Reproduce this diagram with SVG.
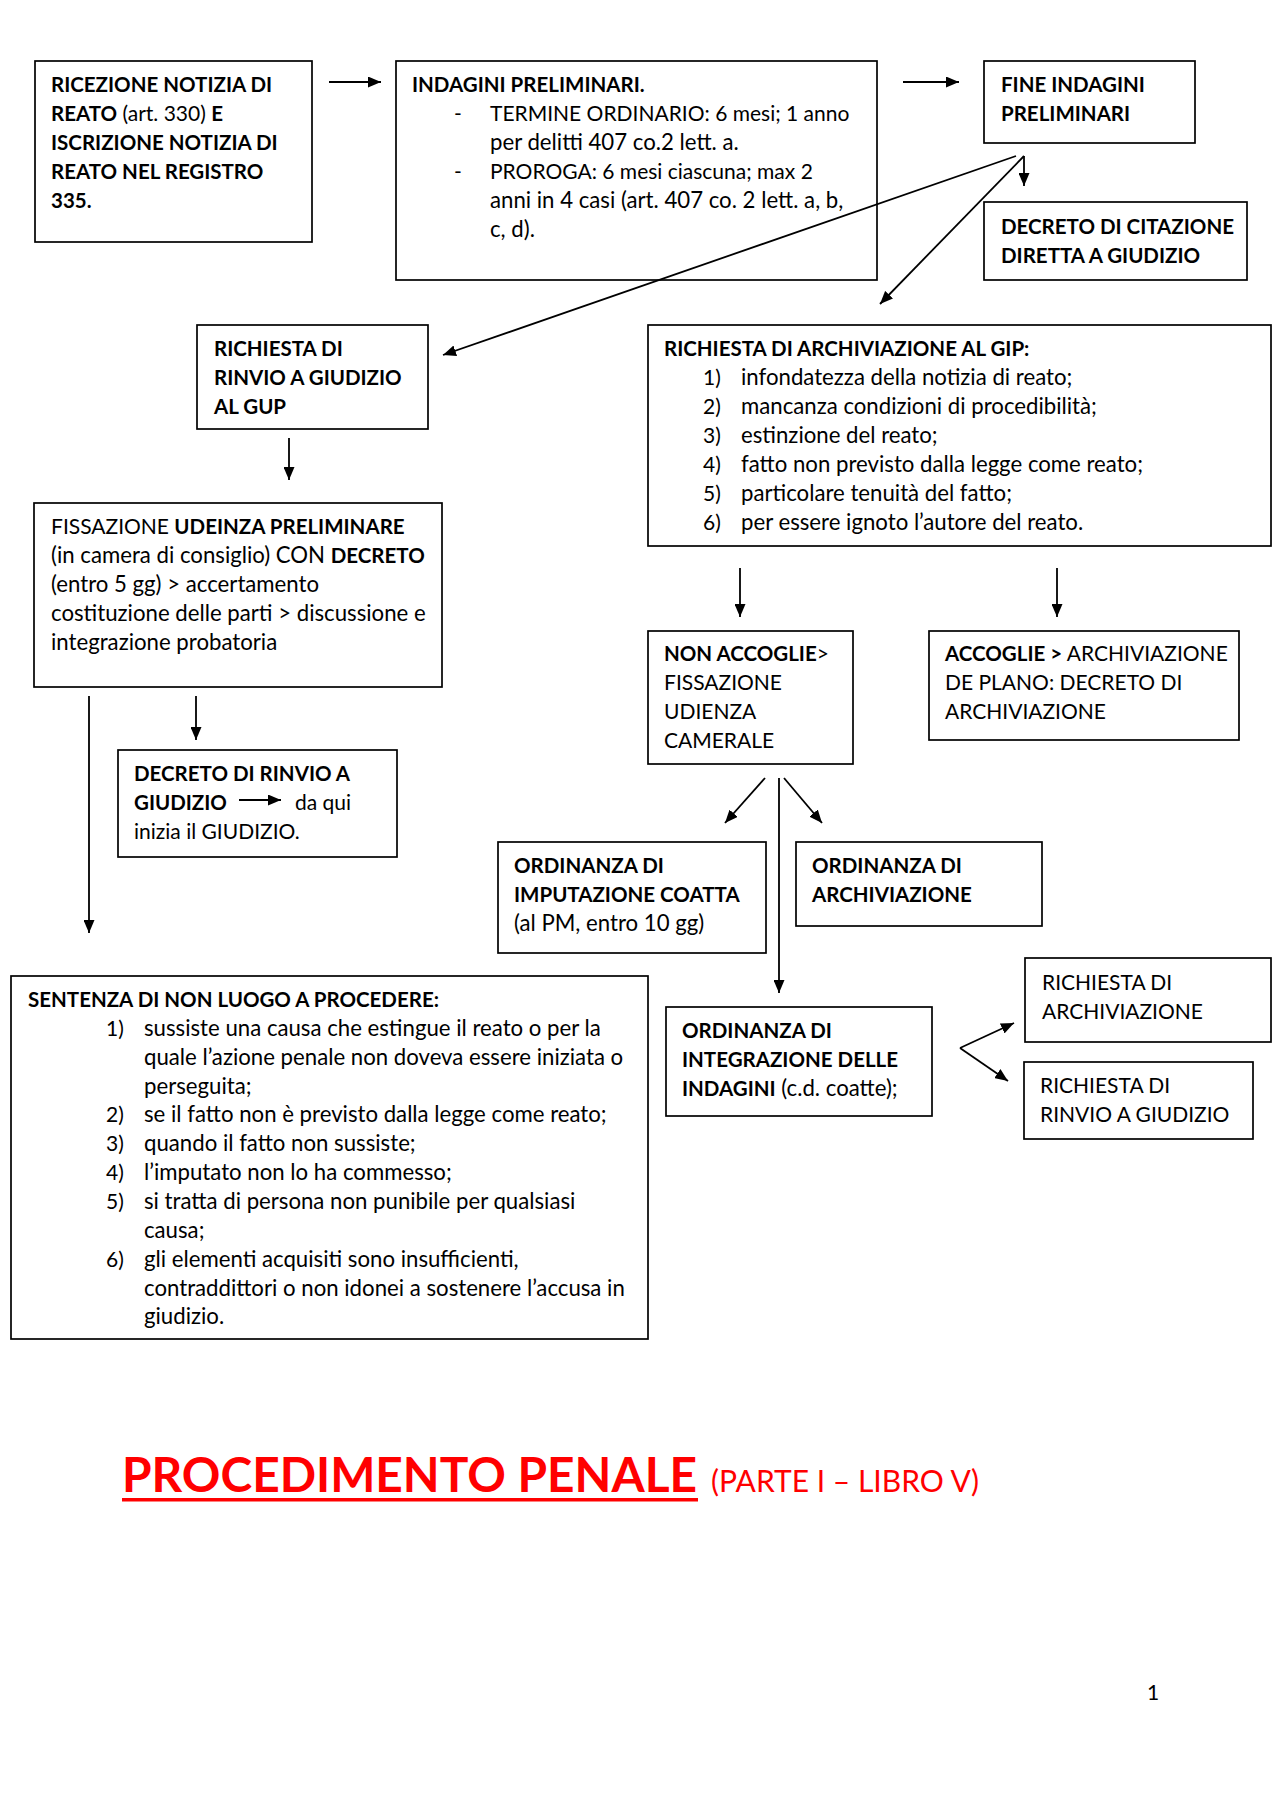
<svg xmlns="http://www.w3.org/2000/svg" width="1280" height="1811" viewBox="0 0 1280 1811">
<style>
.box{fill:#fff;stroke:#000;stroke-width:1.7}
.t{font-family:Lato,"Liberation Sans",sans-serif;font-size:21px;fill:#000}
.l{font-size:22.2px}
.b{font-weight:bold;font-size:20.5px}
.c{stroke:#000;stroke-width:1.8;fill:none}
.red{fill:#ff0000}
</style>
<defs>
<marker id="ah" markerWidth="13" markerHeight="11" refX="13" refY="5.5" orient="auto" markerUnits="userSpaceOnUse">
<path d="M0,0 L13,5.5 L0,11 z" fill="#000"/>
</marker>
</defs>
<rect width="1280" height="1811" fill="#fff"/>

<g id="ricezione">
<rect class="box" x="35" y="61" width="277" height="181"/>
<text class="t b" x="51" y="92">RICEZIONE NOTIZIA DI</text>
<text class="t" x="51" y="121"><tspan class="b">REATO</tspan> (art. 330) <tspan class="b">E</tspan></text>
<text class="t b" x="51" y="150">ISCRIZIONE NOTIZIA DI</text>
<text class="t b" x="51" y="179">REATO NEL REGISTRO</text>
<text class="t b" x="51" y="208">335.</text>
</g>

<g id="indagini">
<rect class="box" x="396" y="61" width="481" height="219"/>
<text class="t b" x="412" y="92">INDAGINI PRELIMINARI.</text>
<text class="t" x="454" y="121">-</text>
<text class="t" x="490" y="121">TERMINE ORDINARIO: 6 mesi; 1 anno</text>
<text class="t l" x="490" y="150">per delitti 407 co.2 lett. a.</text>
<text class="t" x="454" y="179">-</text>
<text class="t" x="490" y="179">PROROGA: 6 mesi ciascuna; max 2</text>
<text class="t l" x="490" y="208">anni in 4 casi (art. 407 co. 2 lett. a, b,</text>
<text class="t l" x="490" y="237">c, d).</text>
</g>

<g id="fine">
<rect class="box" x="984" y="61" width="211" height="82"/>
<text class="t b" x="1001" y="92">FINE INDAGINI</text>
<text class="t b" x="1001" y="121">PRELIMINARI</text>
</g>

<g id="decreto-citazione">
<rect class="box" x="984" y="202" width="263" height="78"/>
<text class="t b" x="1001" y="234">DECRETO DI CITAZIONE</text>
<text class="t b" x="1001" y="263">DIRETTA A GIUDIZIO</text>
</g>

<g id="richiesta-rinvio">
<rect class="box" x="197" y="325" width="231" height="104"/>
<text class="t b" x="214" y="356">RICHIESTA DI</text>
<text class="t b" x="214" y="385">RINVIO A GIUDIZIO</text>
<text class="t b" x="214" y="414">AL GUP</text>
</g>

<g id="richiesta-archiviazione">
<rect class="box" x="648" y="325" width="623" height="221"/>
<text class="t b" x="664" y="356">RICHIESTA DI ARCHIVIAZIONE AL GIP:</text>
<text class="t" x="703" y="385">1)</text><text class="t l" x="741" y="385">infondatezza della notizia di reato;</text>
<text class="t" x="703" y="414">2)</text><text class="t l" x="741" y="414">mancanza condizioni di procedibilità;</text>
<text class="t" x="703" y="443">3)</text><text class="t l" x="741" y="443">estinzione del reato;</text>
<text class="t" x="703" y="472">4)</text><text class="t l" x="741" y="472">fatto non previsto dalla legge come reato;</text>
<text class="t" x="703" y="501">5)</text><text class="t l" x="741" y="501">particolare tenuità del fatto;</text>
<text class="t" x="703" y="530">6)</text><text class="t l" x="741" y="530">per essere ignoto l’autore del reato.</text>
</g>

<g id="udienza-preliminare">
<rect class="box" x="34" y="503" width="408" height="184"/>
<text class="t" x="51" y="534">FISSAZIONE <tspan class="b">UDEINZA PRELIMINARE</tspan></text>
<text class="t l" x="51" y="563">(in camera di consiglio) CON <tspan class="b">DECRETO</tspan></text>
<text class="t l" x="51" y="592">(entro 5 gg) &gt; accertamento</text>
<text class="t l" x="51" y="621">costituzione delle parti &gt; discussione e</text>
<text class="t l" x="51" y="650">integrazione probatoria</text>
</g>

<g id="non-accoglie">
<rect class="box" x="648" y="631" width="205" height="133"/>
<text class="t" x="664" y="661"><tspan class="b">NON ACCOGLIE</tspan>&gt;</text>
<text class="t" x="664" y="690">FISSAZIONE</text>
<text class="t" x="664" y="719">UDIENZA</text>
<text class="t" x="664" y="748">CAMERALE</text>
</g>

<g id="accoglie">
<rect class="box" x="929" y="631" width="310" height="109"/>
<text class="t" x="945" y="661"><tspan class="b">ACCOGLIE &gt;</tspan> ARCHIVIAZIONE</text>
<text class="t" x="945" y="690">DE PLANO: DECRETO DI</text>
<text class="t" x="945" y="719">ARCHIVIAZIONE</text>
</g>

<g id="decreto-rinvio">
<rect class="box" x="118" y="750" width="279" height="107"/>
<text class="t b" x="134" y="781">DECRETO DI RINVIO A</text>
<text class="t b" x="134" y="810">GIUDIZIO</text>
<text class="t" x="295" y="810">da qui</text>
<text class="t" x="134" y="839">inizia il GIUDIZIO.</text>
</g>

<g id="imputazione-coatta">
<rect class="box" x="498" y="842" width="268" height="111"/>
<text class="t b" x="514" y="873">ORDINANZA DI</text>
<text class="t b" x="514" y="902">IMPUTAZIONE COATTA</text>
<text class="t l" x="514" y="931">(al PM, entro 10 gg)</text>
</g>

<g id="ordinanza-archiviazione">
<rect class="box" x="796" y="842" width="246" height="84"/>
<text class="t b" x="812" y="873">ORDINANZA DI</text>
<text class="t b" x="812" y="902">ARCHIVIAZIONE</text>
</g>

<g id="sentenza">
<rect class="box" x="11" y="976" width="637" height="363"/>
<text class="t b" x="28" y="1007">SENTENZA DI NON LUOGO A PROCEDERE:</text>
<text class="t" x="106" y="1036">1)</text><text class="t l" x="144" y="1036">sussiste una causa che estingue il reato o per la</text>
<text class="t l" x="144" y="1065">quale l’azione penale non doveva essere iniziata o</text>
<text class="t l" x="144" y="1094">perseguita;</text>
<text class="t" x="106" y="1122">2)</text><text class="t l" x="144" y="1122">se il fatto non è previsto dalla legge come reato;</text>
<text class="t" x="106" y="1151">3)</text><text class="t l" x="144" y="1151">quando il fatto non sussiste;</text>
<text class="t" x="106" y="1180">4)</text><text class="t l" x="144" y="1180">l’imputato non lo ha commesso;</text>
<text class="t" x="106" y="1209">5)</text><text class="t l" x="144" y="1209">si tratta di persona non punibile per qualsiasi</text>
<text class="t l" x="144" y="1238">causa;</text>
<text class="t" x="106" y="1267">6)</text><text class="t l" x="144" y="1267">gli elementi acquisiti sono insufficienti,</text>
<text class="t l" x="144" y="1296">contraddittori o non idonei a sostenere l’accusa in</text>
<text class="t l" x="144" y="1324">giudizio.</text>
</g>

<g id="integrazione-indagini">
<rect class="box" x="666" y="1007" width="266" height="109"/>
<text class="t b" x="682" y="1038">ORDINANZA DI</text>
<text class="t b" x="682" y="1067">INTEGRAZIONE DELLE</text>
<text class="t l" x="682" y="1096"><tspan class="b">INDAGINI</tspan> (c.d. coatte);</text>
</g>

<g id="richiesta-archiviazione-2">
<rect class="box" x="1025" y="958" width="246" height="84"/>
<text class="t" x="1042" y="990">RICHIESTA DI</text>
<text class="t" x="1042" y="1019">ARCHIVIAZIONE</text>
</g>

<g id="richiesta-rinvio-2">
<rect class="box" x="1024" y="1062" width="229" height="77"/>
<text class="t" x="1040" y="1093">RICHIESTA DI</text>
<text class="t" x="1040" y="1122">RINVIO A GIUDIZIO</text>
</g>

<g id="titolo">
<text class="t b red" x="122" y="1492" style="font-size:47px" textLength="575" lengthAdjust="spacingAndGlyphs">PROCEDIMENTO PENALE</text>
<rect x="122" y="1498" width="576" height="3.5" fill="#ff0000"/>
<text class="t red" x="711" y="1492" style="font-size:31px" textLength="268" lengthAdjust="spacingAndGlyphs">(PARTE I – LIBRO V)</text>
</g>

<g id="pagina">
<text class="t" x="1153" y="1700" text-anchor="middle">1</text>
</g>

<g id="connectors">
<line class="c" x1="329" y1="82" x2="381" y2="82" marker-end="url(#ah)"/>
<line class="c" x1="903" y1="82" x2="959" y2="82" marker-end="url(#ah)"/>
<line class="c" x1="1024" y1="156" x2="1024" y2="186" marker-end="url(#ah)"/>
<line class="c" x1="1016" y1="156" x2="443" y2="355" marker-end="url(#ah)"/>
<line class="c" x1="1024" y1="156" x2="880" y2="304" marker-end="url(#ah)"/>
<line class="c" x1="289" y1="438" x2="289" y2="480" marker-end="url(#ah)"/>
<line class="c" x1="740" y1="568" x2="740" y2="617" marker-end="url(#ah)"/>
<line class="c" x1="1057" y1="568" x2="1057" y2="617" marker-end="url(#ah)"/>
<line class="c" x1="89" y1="696" x2="89" y2="933" marker-end="url(#ah)"/>
<line class="c" x1="196" y1="696" x2="196" y2="740" marker-end="url(#ah)"/>
<line class="c" x1="239" y1="800" x2="281" y2="800" marker-end="url(#ah)"/>
<line class="c" x1="765" y1="778" x2="725" y2="823" marker-end="url(#ah)"/>
<line class="c" x1="779" y1="778" x2="779" y2="993" marker-end="url(#ah)"/>
<line class="c" x1="784" y1="778" x2="822" y2="823" marker-end="url(#ah)"/>
<line class="c" x1="960" y1="1048" x2="1014" y2="1023" marker-end="url(#ah)"/>
<line class="c" x1="960" y1="1048" x2="1008" y2="1081" marker-end="url(#ah)"/>
</g>
</svg>
